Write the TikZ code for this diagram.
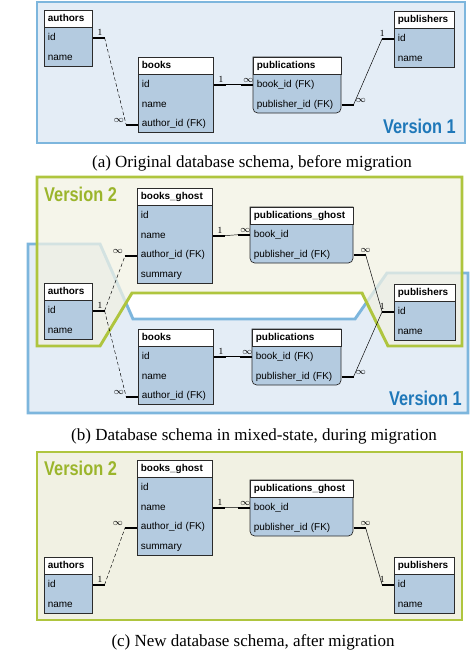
\documentclass[tikz,border=0pt]{standalone}
\usepackage{fontspec}
\setmainfont{Liberation Serif}
\setsansfont{Liberation Sans}
\usetikzlibrary{positioning}
\definecolor{tableBlue}{HTML}{B4CBE0}
\definecolor{frameGray}{HTML}{2B2B2B}
\definecolor{versionOneLine}{HTML}{7DB6DD}
\definecolor{versionOneFill}{HTML}{E4EDF6}
\definecolor{versionOneText}{HTML}{1F78B9}
\definecolor{versionTwoLine}{HTML}{AFC53E}
\definecolor{versionTwoFill}{HTML}{F1F1E3}
\definecolor{versionTwoText}{HTML}{9BB52B}

\tikzset{
  tblhead/.style={draw=frameGray, line width=0.6pt, fill=white, font=\sffamily\bfseries\fontsize{8.5}{9}\selectfont,
    inner xsep=3pt, inner ysep=0pt, minimum height=17*0.03cm, text height=6pt, text depth=2pt, anchor=north west},
  tblrow/.style={font=\sffamily\fontsize{8.5}{9}\selectfont, inner xsep=3pt, inner ysep=0pt,
    minimum height=19.5*0.03cm, text height=6pt, text depth=2pt},
  tblframe/.style={draw=frameGray, line width=0.6pt, fill=tableBlue},
  stub/.style={line width=1.8pt},
  link/.style={line width=0.4pt},
  authorlink/.style={line width=0.4pt, dash pattern=on 3pt off 2pt},
  card/.style={font=\fontsize{8}{8}\selectfont, inner sep=1pt},
  vOneBox/.style={draw=versionOneLine, line width=2.5pt, fill=versionOneFill},
  vTwoBox/.style={draw=versionTwoLine, line width=2.5pt, fill=versionTwoFill},
  version/.style={font=\sffamily\bfseries\fontsize{17}{18}\selectfont, inner sep=0pt},
  caption/.style={font=\fontsize{14.5}{16}\selectfont, inner sep=0pt}
}

% table: [frame options]{name}{x}{y}{width}{title}{rows}
\newcommand{\dbtable}[7][]{%
  \foreach \rt [count=\rn] in {#7} {\xdef\tblrows{\rn}}
  \pgfmathsetlengthmacro{\tblw}{#5*0.03cm-6pt}
  \filldraw[tblframe] (#3,#4) [#1] -- (#3,{#4+17+19.5*\tblrows}) -- ({#3+#5},{#4+17+19.5*\tblrows})
    [sharp corners] -- ({#3+#5},#4) -- cycle;
  \node[tblhead, text width=\tblw] (#2-0) at (#3,#4) {#6};
  \foreach \rt [count=\ri] in {#7} {
    \pgfmathtruncatemacro{\rj}{\ri-1}
    \node[tblrow, text width=\tblw, below=0pt of #2-\rj] (#2-\ri) {\rt};
  }
}

\begin{document}
\begin{tikzpicture}[x=0.03cm, y=-0.03cm]
  \useasboundingbox (0,0) rectangle (474,669);

  % (a) original schema
  \draw[vOneBox] (37,2) rectangle (465,143);
  \node[version, text=versionOneText, anchor=east] (vOneA) at (456,126) {\scalebox{0.82}[1]{Version 1}};
  \dbtable{aAuthors}{44}{10}{48}{authors}{id,name}
  \dbtable{aBooks}{138}{57}{75}{books}{id,name,author\_id (FK)}
  \dbtable[rounded corners=4pt]{aPubs}{253}{57}{88}{publications}{book\_id (FK),publisher\_id (FK)}
  \dbtable{aPublishers}{394}{11}{60}{publishers}{id,name}
  \draw[stub] (aAuthors-1.east) -- ++(12,0) coordinate (aA1) node[card, above left] (aA1c) {1};
  \draw[stub] (aBooks-3.west) -- ++(-12,0) coordinate (aA2) node[card, above left] (aA2c) {$\infty$};
  \draw[authorlink] (aA1) -- (aA2);
  \draw[stub] (aBooks-1.east) -- ++(12,0) coordinate (aB1) node[card, above left] (aB1c) {1};
  \draw[stub] (aPubs-1.west) -- ++(-12,0) coordinate (aB2) node[card, above right] (aB2c) {$\infty$};
  \draw[link] (aB1) -- (aB2);
  \draw[stub] (aPubs-2.east) -- ++(12,0) coordinate (aC1) node[card, above right] (aC1c) {$\infty$};
  \draw[stub] (aPublishers-1.west) -- ++(-12,0) coordinate (aC2) node[card, above] (aC2c) {1};
  \draw[link] (aC1) -- (aC2);
  \node[caption] (capA) at (252,163) {(a) Original database schema, before migration};

  % (b) mixed state: both versions side by side
  \filldraw[vOneBox] (28,244) -- (100,244) -- (133,319) -- (355,319) -- (387,273) -- (468,273) -- (468,413) -- (28,413) -- cycle;
  \filldraw[vTwoBox, fill opacity=0.75] (37,177) -- (462,177) -- (462,346) -- (388,346) -- (362,293) -- (132,293) -- (100,346) -- (37,346) -- cycle;
  \node[version, text=versionTwoText, anchor=west] (vTwoB) at (44,194) {\scalebox{0.82}[1]{Version 2}};
  \node[version, text=versionOneText, anchor=east] (vOneB) at (462,398) {\scalebox{0.82}[1]{Version 1}};
  \dbtable{bGhost}{137}{188}{75}{books\_ghost}{id,name,author\_id (FK),summary}
  \dbtable[rounded corners=4pt]{bPubGhost}{250}{207}{103}{publications\_ghost}{book\_id,publisher\_id (FK)}
  \dbtable{bAuthors}{44}{283}{48}{authors}{id,name}
  \dbtable{bPublishers}{394}{284}{61}{publishers}{id,name}
  \dbtable{bBooks}{138}{329}{75}{books}{id,name,author\_id (FK)}
  \dbtable[rounded corners=4pt]{bPubs}{252}{329}{89}{publications}{book\_id (FK),publisher\_id (FK)}
  \draw[stub] (bAuthors-1.east) -- ++(12,0) coordinate (bA1) node[card, above left] (bA1c) {1};
  \draw[stub] (bGhost-3.west) -- ++(-12,0) coordinate (bA2) node[card, above left] (bA2c) {$\infty$};
  \draw[stub] (bBooks-3.west) -- ++(-12,0) coordinate (bA3) node[card, above left] (bA3c) {$\infty$};
  \draw[authorlink] (bA1) -- (bA2);
  \draw[authorlink] (bA1) -- (bA3);
  \draw[stub] (bGhost-2.east) -- ++(12,0) coordinate (bB1) node[card, above left] (bB1c) {1};
  \draw[stub] (bPubGhost-1.west) -- ++(-12,0) coordinate (bB2) node[card, above right] (bB2c) {$\infty$};
  \draw[link] (bB1) -- (bB2);
  \draw[stub] (bBooks-1.east) -- ++(12,0) coordinate (bD1) node[card, above left] (bD1c) {1};
  \draw[stub] (bPubs-1.west) -- ++(-12,0) coordinate (bD2) node[card, above right] (bD2c) {$\infty$};
  \draw[link] (bD1) -- (bD2);
  \draw[stub] (bPubGhost-2.east) -- ++(12,0) coordinate (bC1) node[card, above] (bC1c) {$\infty$};
  \draw[stub] (bPubs-2.east) -- ++(12,0) coordinate (bE1) node[card, above right] (bE1c) {$\infty$};
  \draw[stub] (bPublishers-1.west) -- ++(-12,0) coordinate (bC2) node[card, above] (bC2c) {1};
  \draw[link] (bC1) -- (bC2);
  \draw[link] (bE1) -- (bC2);
  \node[caption] (capB) at (254,436) {(b) Database schema in mixed-state, during migration};

  % (c) new schema
  \draw[vTwoBox] (37,452) rectangle (462,620);
  \node[version, text=versionTwoText, anchor=west] (vTwoC) at (44,468) {\scalebox{0.82}[1]{Version 2}};
  \dbtable{cGhost}{137}{460}{75}{books\_ghost}{id,name,author\_id (FK),summary}
  \dbtable[rounded corners=4pt]{cPubGhost}{250}{480}{103}{publications\_ghost}{book\_id,publisher\_id (FK)}
  \dbtable{cAuthors}{44}{557}{48}{authors}{id,name}
  \dbtable{cPublishers}{394}{557}{60}{publishers}{id,name}
  \draw[stub] (cAuthors-1.east) -- ++(12,0) coordinate (cA1) node[card, above left] (cA1c) {1};
  \draw[stub] (cGhost-3.west) -- ++(-12,0) coordinate (cA2) node[card, above left] (cA2c) {$\infty$};
  \draw[authorlink] (cA1) -- (cA2);
  \draw[stub] (cGhost-2.east) -- ++(12,0) coordinate (cB1) node[card, above left] (cB1c) {1};
  \draw[stub] (cPubGhost-1.west) -- ++(-12,0) coordinate (cB2) node[card, above right] (cB2c) {$\infty$};
  \draw[link] (cB1) -- (cB2);
  \draw[stub] (cPubGhost-2.east) -- ++(12,0) coordinate (cC1) node[card, above] (cC1c) {$\infty$};
  \draw[stub] (cPublishers-1.west) -- ++(-12,0) coordinate (cC2) node[card, above] (cC2c) {1};
  \draw[link] (cC1) -- (cC2);
  \node[caption] (capC) at (253,642) {(c) New database schema, after migration};
\end{tikzpicture}
\end{document}
